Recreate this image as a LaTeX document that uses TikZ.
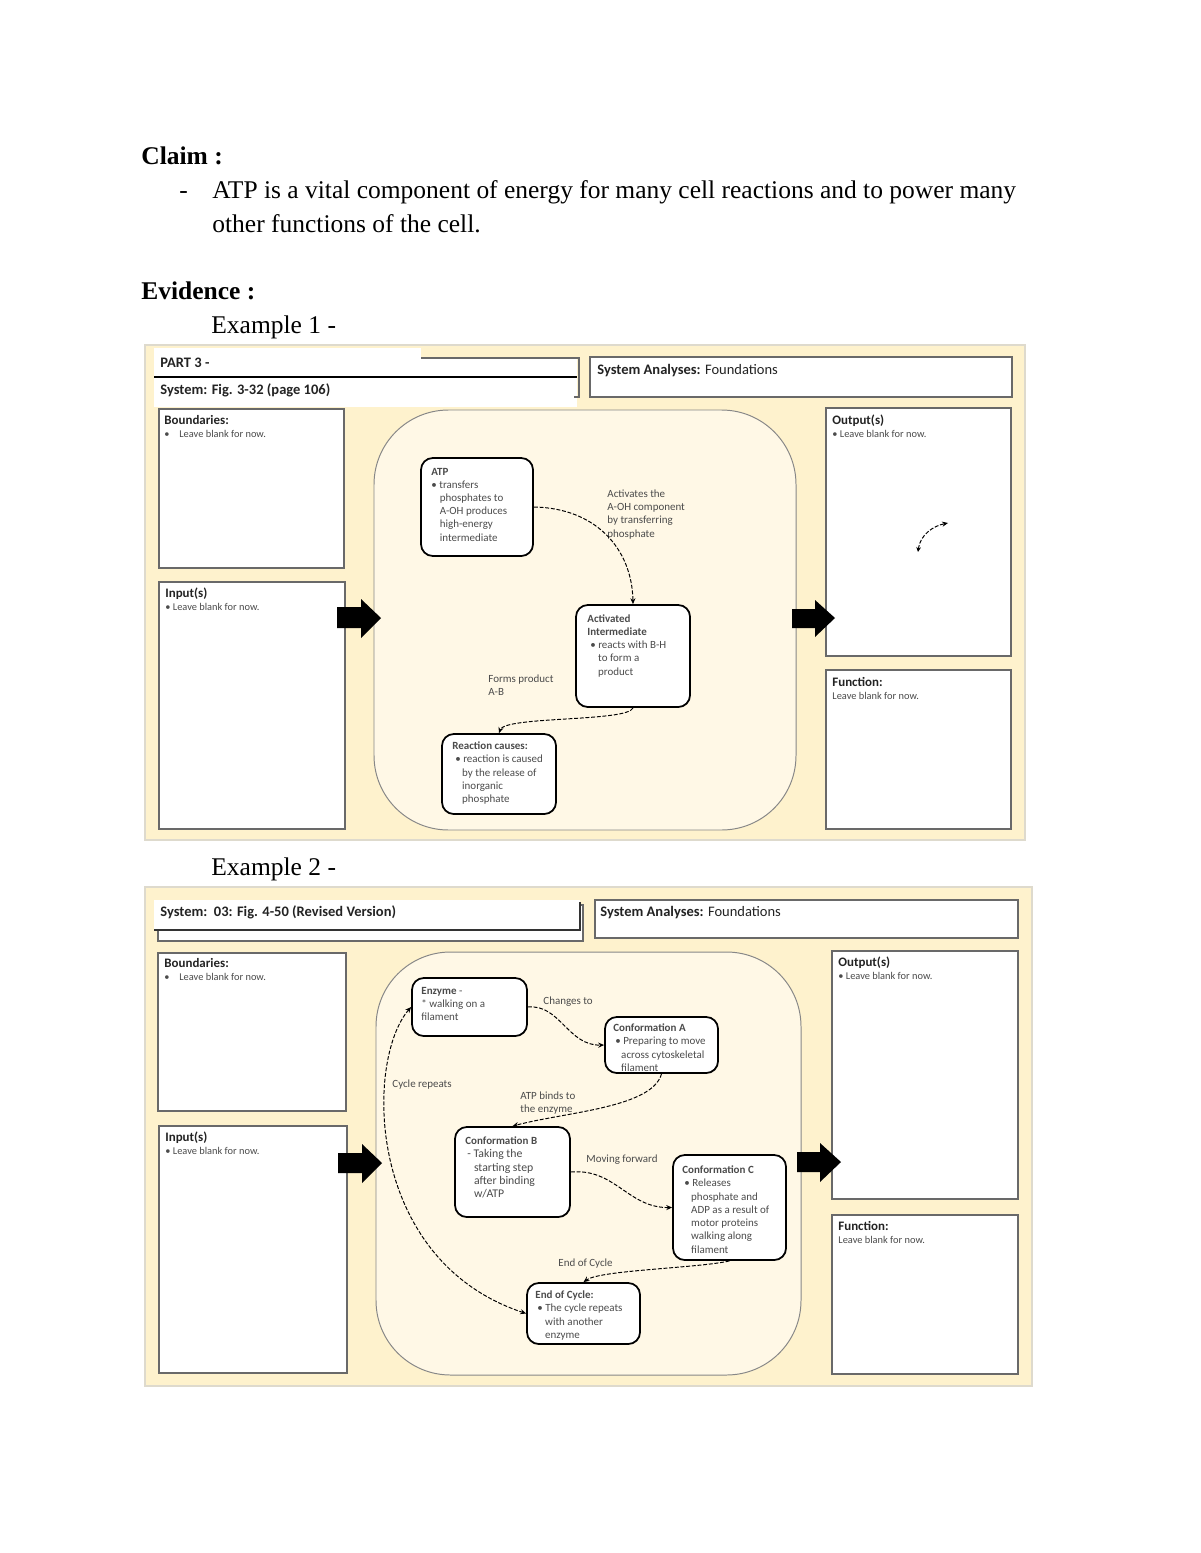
\documentclass[tikz,border=0pt]{standalone}
\usepackage{fontspec}
\setmainfont{Liberation Serif}
\newfontfamily\calfont{Carlito}
\usetikzlibrary{arrows.meta,fit}

\definecolor{panelc}{RGB}{254,242,205}
\definecolor{panelb}{RGB}{222,218,205}
\definecolor{innerc}{RGB}{255,248,230}
\definecolor{innerb}{RGB}{135,135,135}
\definecolor{boxb}{RGB}{105,105,105}
\definecolor{txt}{RGB}{35,35,35}
\definecolor{ltxt}{RGB}{75,75,75}

\newcommand\ind{\hspace*{4.3pt}}

\tikzset{
  panel/.style={fill=panelc, draw=panelb, line width=0.6pt},
  innerreg/.style={fill=innerc, draw=innerb, line width=0.5pt, rounded corners=38pt},
  wbox/.style={fill=white, draw=boxb, line width=0.7pt, inner sep=0pt},
  rbox/.style={fill=white, draw=black, line width=0.9pt, rounded corners=6pt, inner sep=0pt},
  hd/.style={font=\calfont\bfseries\fontsize{6.6}{8}\selectfont, text=txt, inner sep=0pt, anchor=base west},
  hdbig/.style={hd, font=\calfont\bfseries\fontsize{7.4}{8.5}\selectfont},
  sm/.style={font=\calfont\fontsize{5.3}{6.8}\selectfont, text=ltxt, inner sep=0pt, anchor=base west},
  nt/.style={font=\calfont\fontsize{5.6}{6.75}\selectfont, text=ltxt, inner sep=0pt, anchor=north west, align=left},
  flow/.style={dash pattern=on 2pt off 0.9pt, line width=0.5pt, -{Stealth[length=3pt,width=2.6pt]}},
  body/.style={font=\fontsize{13}{15}\selectfont, text=black, inner sep=0pt, anchor=base west},
  blk/.style={fill=black},
}

\begin{document}
\begin{tikzpicture}[x=0.51pt,y=-0.51pt]
\useasboundingbox (0,0) rectangle (1200,1553);
\fill[white] (0,0) rectangle (1200,1553);

% ---------- top text ----------
\node[body] (claim) at (141,165) {\textbf{Claim :}};
\node[body] (dash1) at (179,199) {-};
\node[body] (cl1) at (212,199) {ATP is a vital component of energy for many cell reactions and to power many};
\node[body] (cl2) at (212,233) {other functions of the cell.};
\node[body] (evid) at (141,299) {\textbf{Evidence :}};
\node[body] (ex1) at (211,333) {Example 1 -};
\node[body] (ex2) at (211,875) {Example 2 -};

% ================= EXAMPLE 1 =================
\draw[panel] (145,345) rectangle (1025,840);

% header left
\fill[white] (154,348) rectangle (421,358);
\fill[white] (154,358) rectangle (577,407);
\draw[boxb, line width=0.7pt] (421,358) -- (579,358) -- (579,397) -- (574,397);
\draw[black, line width=0.8pt] (154,377) -- (577,377);
\node[hdbig] (part) at (160,367) {PART 3 -};
\node[hdbig] (sys1) at (160,394) {System: Fig. 3-32 (page 106)};

% header right
\node[wbox, fit={(590,357) (1012,397)}] (sa1) {};
\node[hdbig] (sa1t) at (597,374) {System Analyses: \mdseries Foundations};

% side boxes
\node[wbox, fit={(159,409) (344,568)}] (bd1) {};
\node[hd] (bd1h) at (164,424) {Boundaries:};
\node[sm] (bd1t) at (164,437) {•\hspace{5pt}Leave blank for now.};

\node[wbox, fit={(159,582) (345,829)}] (in1) {};
\node[hd] (in1h) at (165,597) {Input(s)};
\node[sm] (in1t) at (165,610) {• Leave blank for now.};

\node[wbox, fit={(826,408) (1011,656)}] (out1) {};
\node[hd] (out1h) at (832,424) {Output(s)};
\node[sm] (out1t) at (832,437) {• Leave blank for now.};

\node[wbox, fit={(826,670) (1011,829)}] (fn1) {};
\node[hd] (fn1h) at (832,686) {Function:};
\node[sm] (fn1t) at (832,699) {Leave blank for now.};

% inner region
\draw[innerreg] (374,410) rectangle (796,830);

% block arrows
\fill[blk] (337,607) -- (361,607) -- (361,599) -- (381,618) -- (361,638) -- (361,628) -- (337,628) -- cycle;
\fill[blk] (792,609) -- (815,609) -- (815,600) -- (835,618) -- (815,637) -- (815,628) -- (792,628) -- cycle;

% small arrow in output box
\coordinate (oa) at (918,552);
\coordinate (ob) at (948,523);
\draw[flow, {Stealth[length=2.5pt,width=2.4pt]}-{Stealth[length=3pt,width=2.6pt]}] (oa) .. controls (920,535) and (933,526) .. (ob);

% nodes
\node[rbox, fit={(421,458) (533,556)}] (atp) {};
\node[nt] (atpt) at (431,467.5) {\textbf{ATP}\\•~transfers\\\ind phosphates to\\\ind A-OH produces\\\ind high-energy\\\ind intermediate};

\node[rbox, fit={(576,605) (690,707)}] (act) {};
\node[nt] (actt) at (587,614) {\textbf{Activated}\\\textbf{Intermediate}\\\hspace*{1.5pt}•~reacts with B-H\\\hspace*{5.5pt}to form a\\\hspace*{5.5pt}product};

\node[rbox, fit={(442,734) (556,814)}] (rc) {};
\node[nt] (rct) at (452,741.5) {\textbf{Reaction causes:}\\\hspace*{1.5pt}•~reaction is caused\\\hspace*{5pt}by the release of\\\hspace*{5pt}inorganic\\\hspace*{5pt}phosphate};

% labels
\node[nt] (l1) at (607,489.5) {Activates the\\A-OH component\\by transferring\\phosphate};
\node[nt] (l2) at (488,674.5) {Forms product\\A-B};

% connectors
\draw[flow] (atp.east) .. controls (595,508) and (632,548) .. (act.north);
\draw[flow] (act.south) .. controls (628,722) and (505,716) .. (rc.north);

% ================= EXAMPLE 2 =================
\draw[panel] (145,887) rectangle (1032,1386);

% header left
\node[wbox, fit={(158,905) (583,941)}] (hdrb) {};
\fill[white] (154,900) rectangle (580,930);
\draw[black!80, line width=0.8pt] (154,930) -- (580,930) -- (580,902);
\node[hdbig] (sys2) at (160,916) {System:\ \ 03: Fig. 4-50 (Revised Version)};

% header right
\node[wbox, fit={(595,900) (1018,938)}] (sa2) {};
\node[hdbig] (sa2t) at (600,916) {System Analyses: \mdseries Foundations};

% side boxes
\node[wbox, fit={(158,953) (346,1111)}] (bd2) {};
\node[hd] (bd2h) at (164,967) {Boundaries:};
\node[sm] (bd2t) at (164,980) {•\hspace{5pt}Leave blank for now.};

\node[wbox, fit={(159,1126) (347,1373)}] (in2) {};
\node[hd] (in2h) at (165,1141) {Input(s)};
\node[sm] (in2t) at (165,1154) {• Leave blank for now.};

\node[wbox, fit={(832,951) (1018,1199)}] (out2) {};
\node[hd] (out2h) at (838,966) {Output(s)};
\node[sm] (out2t) at (838,979) {• Leave blank for now.};

\node[wbox, fit={(832,1215) (1018,1374)}] (fn2) {};
\node[hd] (fn2h) at (838,1230) {Function:};
\node[sm] (fn2t) at (838,1243) {Leave blank for now.};

% inner region
\draw[innerreg] (376,952) rectangle (801,1375);

% block arrows
\fill[blk] (338,1153) -- (362,1153) -- (362,1144) -- (382,1163) -- (362,1183) -- (362,1173) -- (338,1173) -- cycle;
\fill[blk] (797,1152) -- (820,1152) -- (820,1143) -- (841,1162) -- (820,1182) -- (820,1172) -- (797,1172) -- cycle;

% nodes
\node[rbox, fit={(412,978) (527,1036)}] (enz) {};
\node[nt] (enzt) at (421,986.5) {\textbf{Enzyme} -\\* walking on a\\filament};

\node[rbox, fit={(605,1017) (718,1073)}] (cfa) {};
\node[nt] (cfat) at (613,1023.5) {\textbf{Conformation A}\\\hspace*{1pt}•~Preparing to move\\\hspace*{4pt}across cytoskeletal\\\hspace*{4pt}filament};

\node[rbox, fit={(455,1127) (570,1217)}] (cfb) {};
\node[nt] (cfbt) at (465,1136.5) {\textbf{Conformation B}\\{\fontsize{6}{6.75}\selectfont\hspace*{1pt}- Taking the}\\{\fontsize{6}{6.75}\selectfont\hspace*{4.4pt}starting step}\\{\fontsize{6}{6.75}\selectfont\hspace*{4.4pt}after binding}\\{\fontsize{6}{6.75}\selectfont\hspace*{4.4pt}w/ATP}};

\node[rbox, fit={(673,1155) (786,1260)}] (cfc) {};
\node[nt] (cfct) at (682,1165.5) {\textbf{Conformation C}\\\hspace*{1pt}•~Releases\\\hspace*{4.5pt}phosphate and\\\hspace*{4.5pt}ADP as a result of\\\hspace*{4.5pt}motor proteins\\\hspace*{4.5pt}walking along\\\hspace*{4.5pt}filament};

\node[rbox, fit={(527,1283) (640,1344)}] (endc) {};
\node[nt] (endct) at (535,1290.5) {\textbf{End of Cycle:}\\\hspace*{1pt}•~The cycle repeats\\\hspace*{5pt}with another\\\hspace*{5pt}enzyme};

% labels
\node[nt] (m1) at (543,996.5) {Changes to};
\node[nt] (m2) at (520,1091.5) {ATP binds to\\the enzyme};
\node[nt] (m3) at (392,1079.5) {Cycle repeats};
\node[nt] (m4) at (586,1154.5) {Moving forward};
\node[nt] (m5) at (558,1258.5) {End of Cycle};

% connectors
\draw[flow] (enz.east) .. controls (560,1004) and (568,1046) .. (cfa.west);
\draw[flow] (cfa.south) .. controls (652,1108) and (565,1112) .. (cfb.north);
\draw[flow] (cfb.east) .. controls (615,1168) and (628,1208) .. (cfc.west);
\draw[flow] (cfc.south) .. controls (700,1268) and (600,1270) .. (endc.north);
\draw[flow, {Stealth[length=3pt,width=2.6pt]}-{Stealth[length=3pt,width=2.6pt]}] (enz.west) .. controls (365,1060) and (365,1260) .. (endc.west);

\end{tikzpicture}
\end{document}
